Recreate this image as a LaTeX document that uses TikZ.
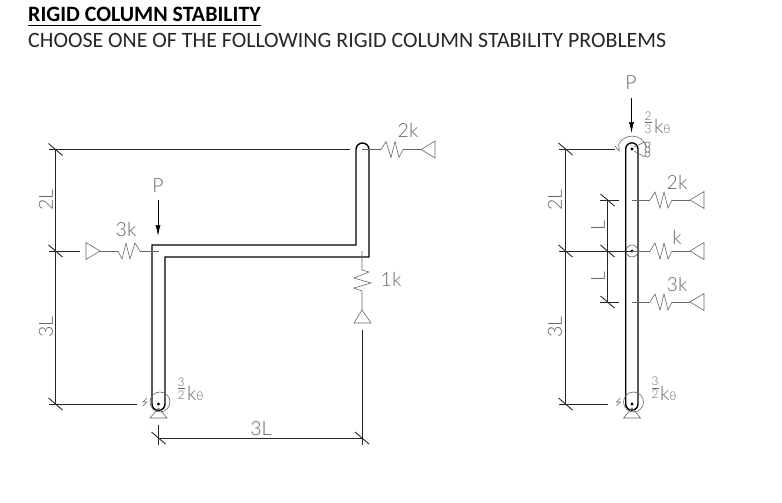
\documentclass[tikz,border=0pt]{standalone}
\usepackage{amsmath}
\usepackage{fontspec}
\usetikzlibrary{arrows.meta}
\setmainfont{Carlito}
\newfontfamily\cadfont{Lato Light}
\tikzset{
    member/.style={line width=1.4pt, black, line join=miter},
    dimline/.style={line width=0.9pt, black!85},
    springline/.style={line width=0.6pt, black!60},
    lbl/.style={inner sep=0pt, text=black!60, font=\cadfont\fontsize{19.5}{19.5}\selectfont},
    fraclbl/.style={inner sep=0pt, text=black!60, font=\cadfont\fontsize{12}{12}\selectfont},
    ticks/.pic={\draw[dimline] (-7,-6) -- (7,6);},
    hspring/.pic={\draw[springline] (0,0) -- (5,-8) -- (10,8) -- (14,-8) -- (18,8) -- (22,0);},
    hsupport/.pic={\draw[springline] (0,0) -- (14,-8.5) -- (14,8.5) -- cycle;},
}
\newcommand{\ktheta}{k{\fontsize{12}{12}\selectfont θ}}
\newcommand{\stackfrac}[2]{\shortstack{#1\\[-1pt]\rule{7pt}{0.5pt}\\[-1pt]#2}}
\begin{document}
\begin{tikzpicture}[x=1pt, y=-1pt]
    \useasboundingbox (0,0) rectangle (782,503);

    % Title
    \node[anchor=base west, inner sep=0pt, font=\fontsize{21.9}{21.9}\selectfont\bfseries] (title) at (28,22) {\underline{RIGID COLUMN STABILITY}};
    \node[anchor=base west, inner sep=0pt, font=\fontsize{21.9}{21.9}\selectfont, text=black!85] (subtitle) at (28,48) {CHOOSE ONE OF THE FOLLOWING RIGID COLUMN STABILITY PROBLEMS};

    % Left frame
    \coordinate (lbase) at (158.5,404);
    \coordinate (lknee) at (158.5,251);
    \coordinate (lcorner) at (362,251);
    \coordinate (ltop) at (362,149.5);
    \draw[member] (152,404) -- (152,245) -- (356,245) -- (356,149.5) arc (180:360:6.5) -- (369,257) -- (165,257) -- (165,404) arc (0:180:6.5);

    % Left frame base support
    \draw[springline] (160,402) circle (10);
    \fill (lbase) circle (1.6);
    \draw[springline] (158.5,408) -- (150,418) -- (167,418) -- cycle;
    \draw[springline] (147,398) -- (143,402) -- (147,402) -- (143,406);

    % Left frame springs
    \coordinate (lspringA) at (381,149.5);
    \coordinate (lspringAend) at (403,149.5);
    \coordinate (lsupportA) at (421,149.5);
    \coordinate (lspringB) at (118,251);
    \coordinate (lspringBend) at (140,251);
    \coordinate (lsupportB) at (100,251);
    \coordinate (lsupportC) at (362,310);
    \pic at (lspringA) {hspring};
    \pic at (lsupportA) {hsupport};
    \pic[xscale=-1] at (lspringBend) {hspring};
    \pic[xscale=-1] at (lsupportB) {hsupport};
    \draw[springline] (ltop) -- (lspringA);
    \draw[springline] (lspringAend) -- (lsupportA);
    \draw[springline] (lknee) -- (lspringBend);
    \draw[springline] (lspringB) -- (lsupportB);
    \draw[springline] (lcorner) -- (362,270) -- (369,272) -- (354,278) -- (371,283) -- (354,288) -- (362,291) -- (lsupportC);
    \draw[springline] (lsupportC) -- (354,323) -- (371,323) -- cycle;

    % Left frame load
    \node[lbl] (lP) at (158,186) {P};
    \coordinate (lPtip) at (158,236);
    \draw[springline, -{Latex[length=11pt,width=5pt]}, black] (158,200) -- (lPtip);

    % Left frame labels
    \node[lbl] (lk2) at (408,130) {2k};
    \node[lbl] (lk3) at (126,229) {3k};
    \node[lbl] (lk1) at (391,279) {1k};
    \node[fraclbl] (lfrac) at (181,388.5) {\stackfrac{3}{2}};
    \node[lbl, anchor=base west] (lktheta) at (187,400) {\ktheta};
    \node[lbl, rotate=90] (ldimA) at (46,200) {2L};
    \node[lbl, rotate=90] (ldimB) at (46,327) {3L};
    \node[lbl] (ldimC) at (261,429) {3L};

    % Left frame dimensions
    \coordinate (ldA) at (55.5,149.5);
    \coordinate (ldB) at (55.5,251);
    \coordinate (ldC) at (55.5,404);
    \coordinate (ldD) at (158.5,438);
    \coordinate (ldE) at (362,438);
    \draw[dimline] (ldA) -- (ldC);
    \draw[dimline] (49,149.5) -- (350,149.5);
    \draw[dimline] (49,251) -- (80,251);
    \draw[dimline] (49,404) -- (137,404);
    \draw[dimline] (ldD) -- (ldE);
    \draw[dimline] (158.5,425) -- (158.5,445);
    \draw[dimline] (362,330) -- (362,445);
    \foreach \p in {ldA,ldB,ldC,ldD,ldE}
        \pic at (\p) {ticks};

    % Right column
    \coordinate (rbase) at (632,404);
    \coordinate (rmid) at (632,251);
    \coordinate (rtop) at (632,149);
    \draw[member] (625.7,404) -- (625.7,149) arc (180:360:6.15) -- (638,404) arc (0:180:6.15);

    % Right column hinges
    \draw[springline] (rmid) circle (6);
    \fill (rmid) circle (1.6);
    \fill (rtop) circle (1.6);
    \draw[springline] (633.5,402) circle (10);
    \fill (rbase) circle (1.6);
    \draw[springline] (632,408) -- (623.5,418) -- (640.5,418) -- cycle;
    \draw[springline] (620.5,398) -- (616.5,402) -- (620.5,402) -- (616.5,406);
    \draw[springline] (618,146) arc (-160:-20:15);
    \draw[springline] (615,146) -- (619,151) -- (619,146);
    \draw[springline] (647.5,144.5) circle (2.6) (647.5,149.5) circle (2.6) (647.5,154.5) circle (2.6);
    \draw[springline] (634,147) -- (645,142) (634,151) -- (645,157);

    % Right column springs
    \foreach \s/\y in {A/200, B/251, C/302} {
        \coordinate (rspring\s) at (650,\y);
        \coordinate (rspring\s end) at (672,\y);
        \coordinate (rsupport\s) at (690,\y);
        \pic at (rspring\s) {hspring};
        \pic at (rsupport\s) {hsupport};
        \draw[springline] (rspring\s end) -- (rsupport\s);
    }
    \draw[springline] (632,200) -- (rspringA);
    \draw[springline] (rmid) -- (rspringB);
    \draw[springline] (632,302) -- (rspringC);

    % Right column load
    \node[lbl] (rP) at (631,83) {P};
    \coordinate (rPtip) at (631.5,133);
    \draw[springline, -{Latex[length=11pt,width=5pt]}, black] (631.5,98) -- (rPtip);

    % Right column labels
    \node[lbl] (rk2) at (677,182) {2k};
    \node[lbl] (rk1) at (677,237) {k};
    \node[lbl] (rk3) at (677,284) {3k};
    \node[fraclbl] (rfrac) at (648,122.5) {\stackfrac{2}{3}};
    \node[lbl, anchor=base west] (rktheta) at (654,133) {\ktheta};
    \node[fraclbl] (rfracb) at (655,388) {\stackfrac{3}{2}};
    \node[lbl, anchor=base west] (rkthetab) at (660,400) {\ktheta};
    \node[lbl, rotate=90] (rdimA) at (555,200) {2L};
    \node[lbl, rotate=90] (rdimB) at (555,327) {3L};
    \node[lbl, rotate=90] (rdimC) at (598,226) {L};
    \node[lbl, rotate=90] (rdimD) at (598,277) {L};

    % Right column dimensions
    \coordinate (rdA) at (565.5,149);
    \coordinate (rdB) at (565.5,251);
    \coordinate (rdC) at (565.5,404);
    \coordinate (rdD) at (607.5,200);
    \coordinate (rdE) at (607.5,251);
    \coordinate (rdF) at (607.5,302);
    \draw[dimline] (rdA) -- (rdC);
    \draw[dimline] (rdD) -- (rdF);
    \draw[dimline] (559,149) -- (615,149);
    \draw[dimline] (559,251) -- (rmid);
    \draw[dimline] (559,404) -- (608,404);
    \draw[dimline] (600,200) -- (619,200);
    \draw[dimline] (600,302) -- (619,302);
    \foreach \p in {rdA,rdB,rdC,rdD,rdE,rdF}
        \pic at (\p) {ticks};
\end{tikzpicture}
\end{document}
